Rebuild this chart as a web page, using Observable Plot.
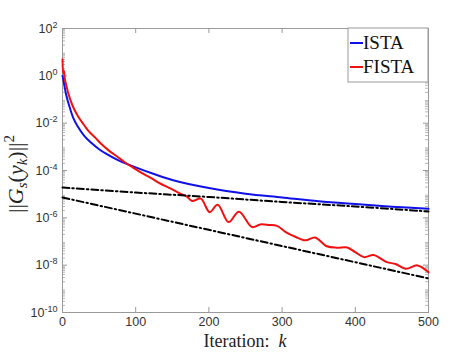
<!DOCTYPE html>
<html>
<head>
<meta charset="utf-8">
<script src="https://cdn.jsdelivr.net/npm/d3@7"></script>
<script src="https://cdn.jsdelivr.net/npm/@observablehq/plot@0.6"></script>
<style>
  html, body { margin: 0; padding: 0; background: white; }
  #chart { width: 474px; height: 355px; position: relative; }
</style>
</head>
<body>
<div id="chart"></div>
<script>
// ---- data (log10 of ||G_s(y_k)||^2) ----
const istaK   = [0, 2, 5, 10, 15, 20, 30, 40, 50, 60, 75, 100, 125, 150, 200, 250, 300, 350, 400, 450, 500];
const istaExp = [0.0, -0.3, -0.8, -1.35, -1.8, -2.1, -2.55, -2.85, -3.1, -3.3, -3.55, -3.87, -4.15, -4.4, -4.74, -4.98, -5.14, -5.30, -5.42, -5.53, -5.62];

const fistaK   = [0, 1, 2, 3, 4, 6, 8, 11, 15, 22, 30, 36, 45, 52, 63, 75, 85, 96, 108, 120, 134, 148, 161, 170, 177, 189, 201, 212, 227, 241, 259, 270, 282, 293, 305, 318, 332, 345, 361, 375, 389, 400, 412, 425, 443, 455, 469, 485, 500];
const fistaExp = [0.7, 0.1, 0.2, -0.1, -0.25, -0.5, -0.75, -1.04, -1.35, -1.75, -2.1, -2.35, -2.62, -2.85, -3.15, -3.42, -3.65, -3.87, -4.1, -4.3, -4.56, -4.77, -4.98, -5.1, -5.29, -5.19, -5.76, -5.45, -6.18, -5.74, -6.39, -6.28, -6.3, -6.34, -6.6, -6.8, -6.95, -6.83, -7.2, -7.26, -7.25, -7.45, -7.66, -7.57, -7.87, -7.95, -8.15, -8.01, -8.3];

const bound1K   = [0, 100, 200, 300, 400, 500];
const bound1Exp = [-4.72, -4.93, -5.12, -5.33, -5.52, -5.73];
const bound2K   = [0, 500];
const bound2Exp = [-5.14, -8.56];

const xTicks = [0, 100, 200, 300, 400, 500];
const yTickExps = [-10, -8, -6, -4, -2, 0, 2];
const seriesNames = ["ISTA", "FISTA"];
const seriesColors = ["#1010e8", "#f01010"];

// ---- build tables ----
const toRows = (ks, es) => ks.map((k, i) => ({k, v: Math.pow(10, es[i])}));
const ista = toRows(istaK, istaExp);
const fista = toRows(fistaK, fistaExp);
const bound1 = toRows(bound1K, bound1Exp);
const bound2 = toRows(bound2K, bound2Exp);
const yMajor = yTickExps.map(e => Math.pow(10, e));
const yMinor = [];
for (let e = -10; e < 2; e++) for (let m = 2; m <= 9; m++) yMinor.push(m * Math.pow(10, e));

const W = 474, H = 355, mL = 62, mR = 46, mT = 28, mB = 43;
const innerH = H - mT - mB, innerW = W - mL - mR;
const axisColor = "#9a9a9a";

const chart = Plot.plot({
  width: W, height: H,
  marginLeft: mL, marginRight: mR, marginTop: mT, marginBottom: mB,
  style: {background: "white", fontFamily: "'Liberation Sans', Arial, sans-serif", fontSize: "12.5px", color: "#333"},
  x: {domain: [0, 500], label: null},
  y: {type: "log", domain: [1e-10, 1e2], label: null},
  marks: [
    // inward ticks
    Plot.ruleX(xTicks, {x: d => d, insetTop: innerH - 5, stroke: axisColor}),
    Plot.ruleX(xTicks, {x: d => d, insetBottom: innerH - 5, stroke: axisColor}),
    Plot.ruleY(yMajor, {y: d => d, insetRight: innerW - 5, stroke: axisColor}),
    Plot.ruleY(yMajor, {y: d => d, insetLeft: innerW - 5, stroke: axisColor}),
    Plot.ruleY(yMinor, {y: d => d, insetRight: innerW - 3, stroke: "#b8b8b8"}),
    Plot.ruleY(yMinor, {y: d => d, insetLeft: innerW - 3, stroke: "#b8b8b8"}),
    Plot.frame({stroke: axisColor}),
    Plot.axisX({ticks: xTicks, tickSize: 0, tickPadding: 5, label: null, tickFormat: d => String(d)}),
    Plot.axisY({ticks: yMajor, tickSize: 0, tickPadding: 5, label: null, tickFormat: d => String(Math.round(Math.log10(d)))}),
    // series
    Plot.line(ista, {x: "k", y: "v", stroke: seriesColors[0], strokeWidth: 2, curve: "catmull-rom"}),
    Plot.line(fista, {x: "k", y: "v", stroke: seriesColors[1], strokeWidth: 2, curve: "catmull-rom"}),
    Plot.line(bound1, {x: "k", y: "v", stroke: "black", strokeWidth: 2, strokeDasharray: "7,3,1.5,3", curve: "catmull-rom"}),
    Plot.line(bound2, {x: "k", y: "v", stroke: "black", strokeWidth: 2, strokeDasharray: "7,3,1.5,3"})
  ]
});

const svg = d3.select(chart);
// superscript y tick labels
svg.selectAll('g[aria-label="y-axis tick label"] text').each(function() {
  const e = this.textContent;
  const t = d3.select(this);
  t.text("");
  t.append("tspan").text("10");
  t.append("tspan").attr("dy", "-0.55em").attr("font-size", "9px").text(e);
});

const serif = "'Liberation Serif', 'Times New Roman', serif";
// y label
const yl = svg.append("text")
  .attr("transform", `translate(23,${mT + innerH / 2 + 4}) rotate(-90)`)
  .attr("text-anchor", "middle")
  .attr("font-family", serif).attr("font-size", 22).attr("fill", "#222");
yl.append("tspan").text("||");
yl.append("tspan").attr("font-style", "italic").text("G");
yl.append("tspan").attr("font-style", "italic").attr("font-size", 15).attr("dy", 4).text("s");
yl.append("tspan").attr("dy", -4).text("(");
yl.append("tspan").attr("font-style", "italic").text("y");
yl.append("tspan").attr("font-style", "italic").attr("font-size", 15).attr("dy", 4).text("k");
yl.append("tspan").attr("dy", -4).text(")||");
yl.append("tspan").attr("font-size", 15).attr("dy", -9).text("2");

// x label
const xl = svg.append("text")
  .attr("x", mL + innerW / 2).attr("y", 347)
  .attr("text-anchor", "middle")
  .attr("font-family", serif).attr("font-size", 18).attr("fill", "#222");
xl.append("tspan").text("Iteration:  ");
xl.append("tspan").attr("font-style", "italic").text("k");

// legend
const lg = svg.append("g");
lg.append("rect").attr("x", 348).attr("y", mT).attr("width", W - mR - 348).attr("height", 54)
  .attr("fill", "white").attr("stroke", axisColor);
seriesNames.forEach((name, i) => {
  const y = 43 + i * 24;
  lg.append("line").attr("x1", 350).attr("x2", 363).attr("y1", y).attr("y2", y)
    .attr("stroke", seriesColors[i]).attr("stroke-width", 2);
  lg.append("text").attr("x", 363).attr("y", y + 5.5).attr("text-anchor", "start")
    .attr("font-family", serif).attr("font-size", 19).attr("fill", "#111").text(name);
});

document.getElementById("chart").appendChild(chart);
</script>
</body>
</html>
